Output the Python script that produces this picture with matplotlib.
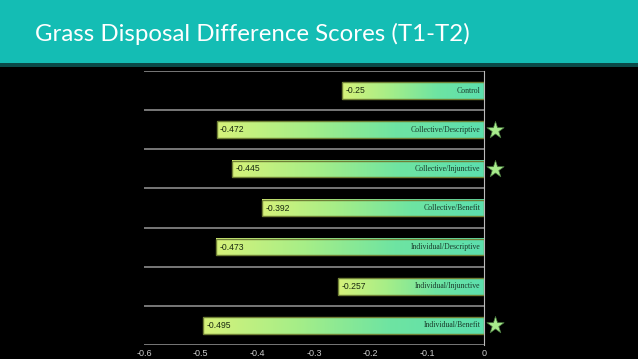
import numpy as np
import matplotlib.pyplot as plt
from matplotlib.colors import LinearSegmentedColormap
from matplotlib.patches import Rectangle

categories = ["Control", "Collective/Descriptive", "Collective/Injunctive",
              "Collective/Benefit", "Individual/Descriptive", "Individual/Injunctive",
              "Individual/Benefit"]
values = [-0.25, -0.472, -0.445, -0.392, -0.473, -0.257, -0.495]
starred = [False, True, True, False, False, False, True]
xticks = [-0.6, -0.5, -0.4, -0.3, -0.2, -0.1, 0]
xtick_labels = ["-0.6", "-0.5", "-0.4", "-0.3", "-0.2", "-0.1", "0"]

fig = plt.figure(figsize=(6.38, 3.59), dpi=100, facecolor="black")

# teal header band
fig.patches.append(Rectangle((0, 1 - 63 / 359), 1, 63 / 359, transform=fig.transFigure,
                             facecolor="#14bdb4", edgecolor="none", zorder=0))
fig.patches.append(Rectangle((0, 1 - 67 / 359), 1, 4 / 359, transform=fig.transFigure,
                             facecolor="#0a4a48", edgecolor="none", zorder=0))
fig.text(35 / 638, 1 - 34 / 359, "Grass Disposal Difference Scores (T1-T2)",
         color="white", fontsize=17.3, family="Lato",
         va="center", ha="left")

ax = fig.add_axes([144 / 638, 1 - 345 / 359, 340 / 638, 274 / 359])
ax.set_facecolor("black")
n = len(categories)
ax.set_xlim(-0.6, 0)
ax.set_ylim(n - 0.5, -0.5)

cmap = LinearSegmentedColormap.from_list("g", ["#d6f27a", "#a6ee88", "#6ee4a2", "#5cdfae"])
grad = np.linspace(0, 1, 256).reshape(1, -1)
h = 0.42
for i, v in enumerate(values):
    ax.imshow(grad, extent=[v, 0, i + h / 2, i - h / 2], cmap=cmap, aspect="auto", zorder=2)
    ax.add_patch(Rectangle((v, i - h / 2), -v, h, facecolor="none",
                           edgecolor="#6f7f35", lw=1.0, zorder=3))
    ax.text(v + 0.006, i, str(v), fontsize=6.2, color="#1a2a10", va="center",
            ha="left", family="Liberation Sans", zorder=4)
    ax.text(-0.006, i, categories[i], fontsize=5.6, color="#1a3a2a", va="center",
            ha="right", family="Liberation Serif", zorder=4)
    if starred[i]:
        ax.scatter([0.019], [i], marker="*", s=170, color="#a8ec8c",
                   edgecolors="#4a7a40", linewidths=0.5, clip_on=False, zorder=5)

# separators
for y in np.arange(-0.5, n, 1.0):
    ax.axhline(y, color="#8c8c8c", lw=1.2, zorder=1)

for s in ["top", "left", "bottom"]:
    ax.spines[s].set_visible(False)
ax.spines["right"].set_color("#bbbbbb")
ax.spines["right"].set_linewidth(0.8)
ax.set_yticks([])
ax.set_xticks(xticks)
ax.set_xticklabels(xtick_labels, fontsize=6.5, color="#cccccc", family="Liberation Sans")
ax.tick_params(axis="x", length=0, pad=3)

fig.savefig("out.png", dpi=100, facecolor="black")
